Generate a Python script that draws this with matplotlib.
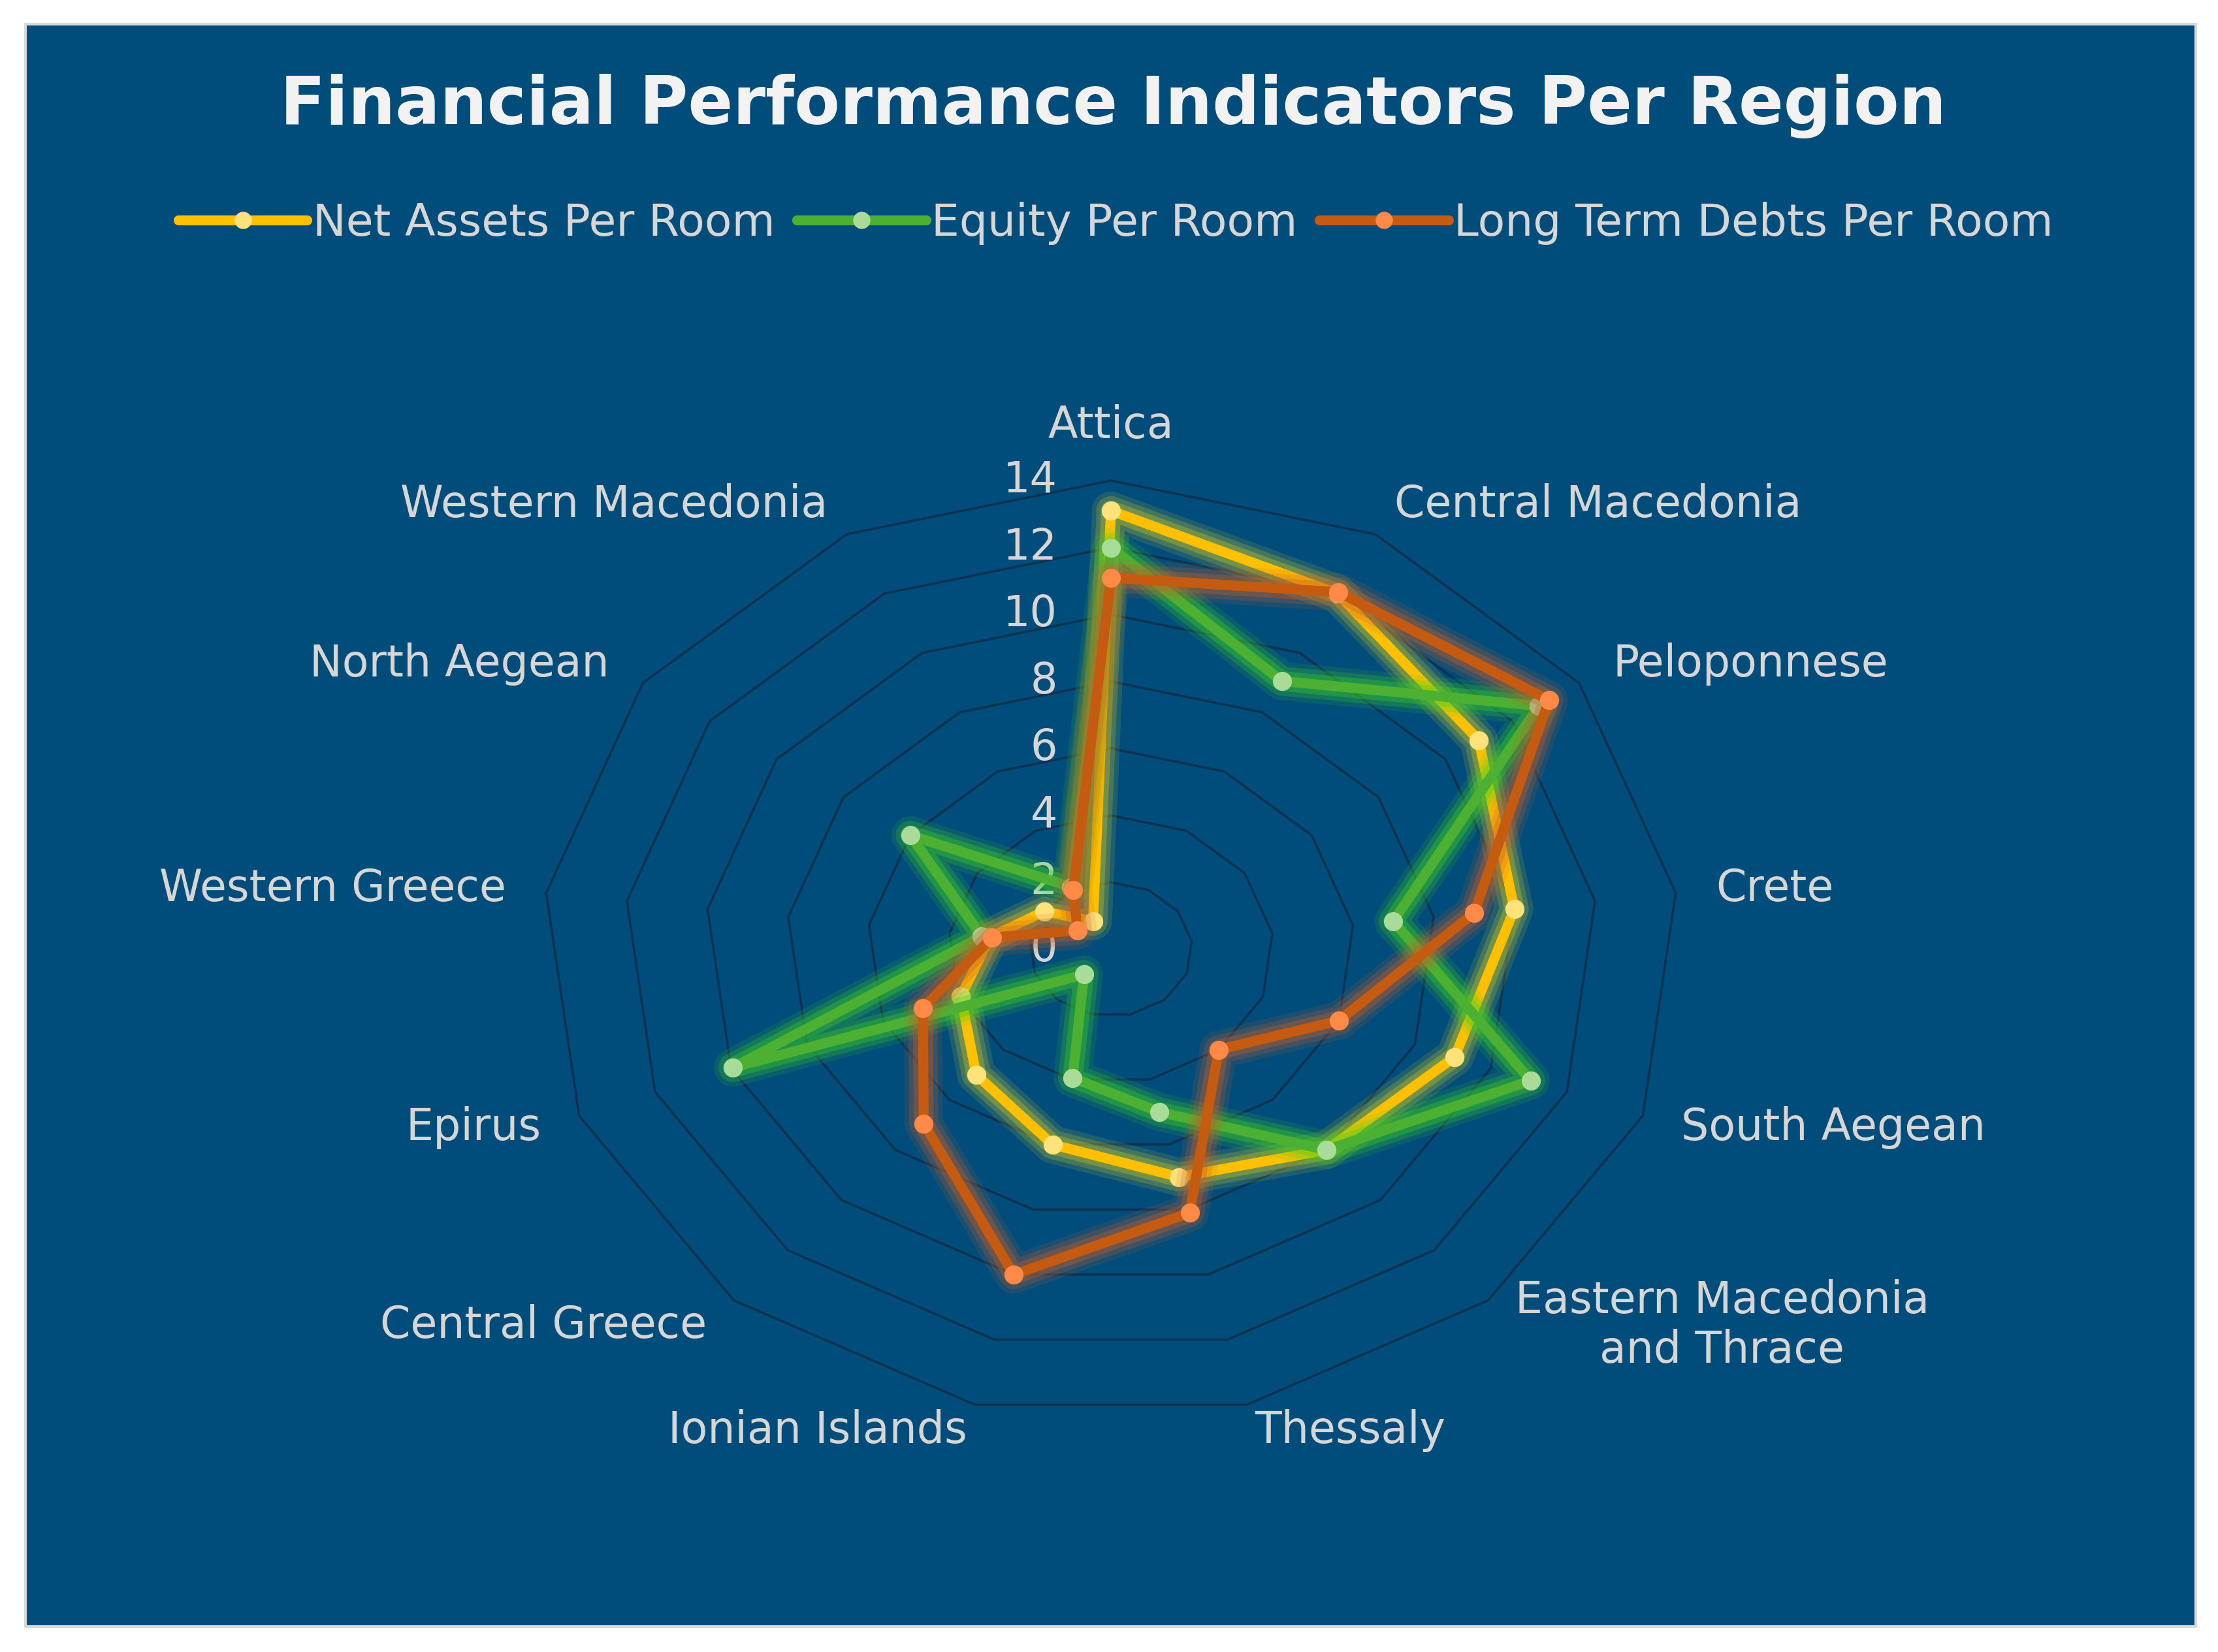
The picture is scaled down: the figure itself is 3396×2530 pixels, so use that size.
import numpy as np
import matplotlib
matplotlib.use("Agg")
import matplotlib.pyplot as plt
from matplotlib.patches import Rectangle
from matplotlib.lines import Line2D
from matplotlib.transforms import offset_copy

# data, clockwise from the top
regions = ["Attica", "Central Macedonia", "Peloponnese", "Crete", "South Aegean",
           "Eastern Macedonia\nand Thrace", "Thessaly", "Ionian Islands", "Central Greece",
           "Epirus", "Western Greece", "North Aegean", "Western Macedonia"]
net_assets = [13.1, 12.0, 11.0, 10.0, 9.05, 8.0, 7.0, 6.0, 5.0, 3.95, 3.0, 2.0, 0.95]
equity = [12.0, 9.05, 12.8, 7.0, 11.05, 8.0, 5.0, 3.95, 1.0, 9.95, 3.2, 6.0, 2.1]
lt_debts = [11.1, 12.05, 13.1, 9.0, 6.0, 4.0, 8.1, 10.0, 6.95, 4.95, 2.95, 1.0, 2.0]
series_names = ["Net Assets Per Room", "Equity Per Room", "Long Term Debts Per Room"]
r_ticks = [0, 2, 4, 6, 8, 10, 12, 14]

bg = "#004C7A"
ring_col = "#0D3252"
txt_col = "#D6D6D6"
line_cols = ["#FFC000", "#4CB032", "#C55A11"]
mark_cols = ["#FFE27A", "#A9DC98", "#FF8A47"]
glow_cols = ["#D8CC20", "#3FD21F", "#C8602A"]

W, H = 3396, 2530
fig = plt.figure(figsize=(W / 100, H / 100), dpi=100, facecolor="white")
fig.patches.append(Rectangle((39 / W, 1 - 2491 / H), (3362 - 39) / W, (2491 - 37) / H,
                             transform=fig.transFigure, facecolor=bg,
                             edgecolor="#D9D9D9", lw=3, zorder=-10))

# polar axes stretched horizontally like the original
cx, cy = 1701, 1454
rx, ry = 871, 718
ax = fig.add_axes([(cx - rx) / W, (H - cy - ry) / H, 2 * rx / W, 2 * ry / H], projection="polar")
ax.set_aspect("auto")
ax.set_facecolor("none")
ax.set_theta_zero_location("N")
ax.set_theta_direction(-1)
ax.grid(False)
ax.spines["polar"].set_visible(False)
ax.set_xticks([])
ax.set_yticks([])
ax.set_ylim(0, 14)

n = len(regions)
theta = np.linspace(0, 2 * np.pi, n, endpoint=False)
theta_c = np.append(theta, theta[0])

for v in r_ticks[1:]:
    ax.plot(theta_c, [v] * (n + 1), color=ring_col, lw=2.5, zorder=1, clip_on=False)

for i, vals in enumerate([net_assets, equity, lt_debts]):
    r = np.append(vals, vals[0])
    for w, a in [(42, 0.14), (32, 0.22), (22, 0.32)]:
        ax.plot(theta_c, r, color=glow_cols[i], lw=w, alpha=a, solid_joinstyle="round",
                solid_capstyle="round", zorder=2 + i * 3, clip_on=False)
    ax.plot(theta_c, r, color=line_cols[i], lw=11, solid_joinstyle="round",
            zorder=3 + i * 3, clip_on=False)
    ax.plot(theta, vals, ls="none", marker="o", ms=21, mfc=mark_cols[i], mec="none",
            zorder=4 + i * 3, clip_on=False)

# category labels
for t, lab in zip(theta, regions):
    s = np.sin(t)
    c = np.cos(t)
    if abs(s) < 0.05:
        ha = "center"
    elif s > 0:
        ha = "left"
    else:
        ha = "right"
    va = "bottom" if c > 0.99 else "center"
    rr = 14.8 if c < -0.9 else 15
    ax.text(t, rr, lab, ha=ha, va=va, fontsize=48, color=txt_col, multialignment="center")

# radial tick labels
tr = offset_copy(ax.transData, fig=fig, x=-82, y=0, units="dots")
for v in r_ticks:
    ax.text(0, v, str(v), transform=tr, ha="right", va="center", fontsize=47, color=txt_col)

fig.text(0.502, 1 - 162 / H, "Financial Performance Indicators Per Region", ha="center",
         va="center", fontsize=73, fontweight="bold", color="#F2F2F2")

handles = [Line2D([], [], color=line_cols[i], lw=11, marker="o", ms=19, mfc=mark_cols[i],
                  mec="none", solid_capstyle="round") for i in range(3)]
leg = fig.legend(handles, series_names, loc="center", bbox_to_anchor=(0.503, 1 - 342 / H),
                 ncol=3, frameon=False, fontsize=49, handlelength=2.9, handletextpad=0.12,
                 columnspacing=0.5, numpoints=1)
for t in leg.get_texts():
    t.set_color(txt_col)

fig.savefig("out.png", dpi=100, facecolor="white")
